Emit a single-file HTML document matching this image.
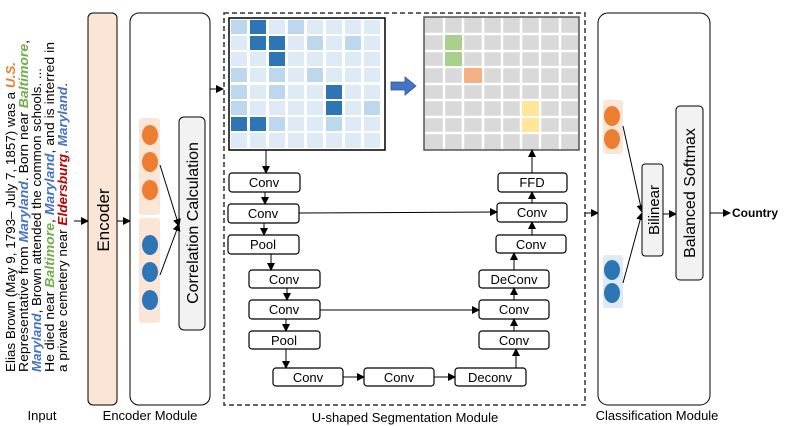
<!DOCTYPE html>
<html><head><meta charset="utf-8"><style>
html,body{margin:0;padding:0;background:#fff;}
svg{display:block;font-family:"Liberation Sans",sans-serif;}
</style></head><body>
<svg width="790" height="426" viewBox="0 0 790 426" xmlns="http://www.w3.org/2000/svg">
<defs>
<marker id="a" markerWidth="8" markerHeight="8" refX="7" refY="4" orient="auto" markerUnits="userSpaceOnUse">
<path d="M0,0 L8,4 L0,8 z" fill="#000"/></marker>
</defs>
<!-- Input text -->
<g font-size="12.5" fill="#000">
<text transform="rotate(-90)" x="-372" y="15" textLength="310" lengthAdjust="spacingAndGlyphs">Elias Brown (May 9, 1793– July 7, 1857) was a <tspan fill="#ed7d31" font-weight="bold" font-style="italic">U.S.</tspan></text>
<text transform="rotate(-90)" x="-372" y="28" textLength="332" lengthAdjust="spacingAndGlyphs">Representative from <tspan fill="#4472c4" font-weight="bold" font-style="italic">Maryland</tspan>. Born near <tspan fill="#70ad47" font-weight="bold" font-style="italic">Baltimore</tspan>,</text>
<text transform="rotate(-90)" x="-372" y="41" textLength="304" lengthAdjust="spacingAndGlyphs"><tspan fill="#4472c4" font-weight="bold" font-style="italic">Maryland</tspan>, Brown attended the common schools. ...</text>
<text transform="rotate(-90)" x="-372" y="54" textLength="330" lengthAdjust="spacingAndGlyphs">He died near <tspan fill="#70ad47" font-weight="bold" font-style="italic">Baltimore</tspan>, <tspan fill="#4472c4" font-weight="bold" font-style="italic">Maryland</tspan>, and is interred in</text>
<text transform="rotate(-90)" x="-372" y="67" textLength="289" lengthAdjust="spacingAndGlyphs">a private cemetery near <tspan fill="#c00000" font-weight="bold" font-style="italic">Eldersburg</tspan>, <tspan fill="#4472c4" font-weight="bold" font-style="italic">Maryland</tspan>.</text>
</g>
<line x1="74" y1="221" x2="88" y2="221" stroke="#000" marker-end="url(#a)"/>
<!-- Encoder -->
<rect x="88" y="13" width="29" height="392" rx="5" fill="#fbe5d6" stroke="#000"/>
<text transform="translate(109,220) rotate(-90)" text-anchor="middle" font-size="17">Encoder</text>
<line x1="117" y1="221" x2="130" y2="221" stroke="#000" marker-end="url(#a)"/>
<!-- Encoder module -->
<rect x="130" y="13" width="80" height="392" rx="9" fill="#fff" stroke="#000"/>
<rect x="139" y="118" width="21" height="97" rx="3" fill="#fbe5d6"/>
<ellipse cx="150" cy="135" rx="8" ry="10" fill="#ed7d31"/>
<ellipse cx="150" cy="162" rx="8" ry="10" fill="#ed7d31"/>
<ellipse cx="150" cy="190" rx="8" ry="10" fill="#ed7d31"/>
<rect x="139" y="218" width="21" height="105" rx="3" fill="#fbe5d6"/>
<ellipse cx="150" cy="245" rx="8" ry="10" fill="#2e75b6"/>
<ellipse cx="150" cy="272" rx="8" ry="10" fill="#2e75b6"/>
<ellipse cx="150" cy="300" rx="8" ry="10" fill="#2e75b6"/>
<rect x="179" y="117" width="26" height="213" rx="5" fill="#f2f2f2" stroke="#000"/>
<text transform="translate(198,223) rotate(-90)" text-anchor="middle" font-size="16">Correlation Calculation</text>
<line x1="160" y1="165" x2="179" y2="226" stroke="#000" marker-end="url(#a)"/>
<line x1="160" y1="275" x2="179" y2="224" stroke="#000" marker-end="url(#a)"/>
<line x1="210" y1="89" x2="223" y2="89" stroke="#000" marker-end="url(#a)"/>
<!-- dashed box -->
<rect x="224" y="13" width="361" height="392" fill="none" stroke="#333" stroke-width="1.5" stroke-dasharray="5,3"/>
<!-- heatmap 1 -->
<g id="h1"></g>
<rect x="229" y="18" width="156" height="132" fill="#fff" stroke="#000" stroke-width="1.5"/>
<g>
<script type="text/plain"></script>
</g>
<g>
<!-- rows -->
<g fill="#deebf7">
</g>
</g>
<!-- heatmap cells generated statically -->
<g stroke="none">
<!-- row0 -->
<rect x="231" y="20" width="16" height="14" fill="#bdd7ee"/><rect x="250" y="20" width="16" height="14" fill="#2e75b6"/><rect x="269" y="20" width="16" height="14" fill="#deebf7"/><rect x="288" y="20" width="16" height="14" fill="#bdd7ee"/><rect x="307" y="20" width="16" height="14" fill="#deebf7"/><rect x="326" y="20" width="16" height="14" fill="#deebf7"/><rect x="345" y="20" width="16" height="14" fill="#deebf7"/><rect x="364" y="20" width="16" height="14" fill="#deebf7"/>
<!-- row1 -->
<rect x="231" y="36" width="16" height="14" fill="#deebf7"/><rect x="250" y="36" width="16" height="14" fill="#2e75b6"/><rect x="269" y="36" width="16" height="14" fill="#2e75b6"/><rect x="288" y="36" width="16" height="14" fill="#deebf7"/><rect x="307" y="36" width="16" height="14" fill="#bdd7ee"/><rect x="326" y="36" width="16" height="14" fill="#deebf7"/><rect x="345" y="36" width="16" height="14" fill="#bdd7ee"/><rect x="364" y="36" width="16" height="14" fill="#deebf7"/>
<!-- row2 -->
<rect x="231" y="52" width="16" height="14" fill="#deebf7"/><rect x="250" y="52" width="16" height="14" fill="#deebf7"/><rect x="269" y="52" width="16" height="14" fill="#2e75b6"/><rect x="288" y="52" width="16" height="14" fill="#deebf7"/><rect x="307" y="52" width="16" height="14" fill="#deebf7"/><rect x="326" y="52" width="16" height="14" fill="#deebf7"/><rect x="345" y="52" width="16" height="14" fill="#deebf7"/><rect x="364" y="52" width="16" height="14" fill="#deebf7"/>
<!-- row3 -->
<rect x="231" y="68" width="16" height="14" fill="#bdd7ee"/><rect x="250" y="68" width="16" height="14" fill="#deebf7"/><rect x="269" y="68" width="16" height="14" fill="#bdd7ee"/><rect x="288" y="68" width="16" height="14" fill="#deebf7"/><rect x="307" y="68" width="16" height="14" fill="#bdd7ee"/><rect x="326" y="68" width="16" height="14" fill="#deebf7"/><rect x="345" y="68" width="16" height="14" fill="#deebf7"/><rect x="364" y="68" width="16" height="14" fill="#deebf7"/>
<!-- row4 -->
<rect x="231" y="85" width="16" height="14" fill="#bdd7ee"/><rect x="250" y="85" width="16" height="14" fill="#deebf7"/><rect x="269" y="85" width="16" height="14" fill="#bdd7ee"/><rect x="288" y="85" width="16" height="14" fill="#deebf7"/><rect x="307" y="85" width="16" height="14" fill="#deebf7"/><rect x="326" y="85" width="16" height="14" fill="#2e75b6"/><rect x="345" y="85" width="16" height="14" fill="#deebf7"/><rect x="364" y="85" width="16" height="14" fill="#deebf7"/>
<!-- row5 -->
<rect x="231" y="101" width="16" height="14" fill="#bdd7ee"/><rect x="250" y="101" width="16" height="14" fill="#deebf7"/><rect x="269" y="101" width="16" height="14" fill="#deebf7"/><rect x="288" y="101" width="16" height="14" fill="#deebf7"/><rect x="307" y="101" width="16" height="14" fill="#deebf7"/><rect x="326" y="101" width="16" height="14" fill="#2e75b6"/><rect x="345" y="101" width="16" height="14" fill="#deebf7"/><rect x="364" y="101" width="16" height="14" fill="#bdd7ee"/>
<!-- row6 -->
<rect x="231" y="117" width="16" height="14" fill="#2e75b6"/><rect x="250" y="117" width="16" height="14" fill="#2e75b6"/><rect x="269" y="117" width="16" height="14" fill="#bdd7ee"/><rect x="288" y="117" width="16" height="14" fill="#deebf7"/><rect x="307" y="117" width="16" height="14" fill="#deebf7"/><rect x="326" y="117" width="16" height="14" fill="#bdd7ee"/><rect x="345" y="117" width="16" height="14" fill="#deebf7"/><rect x="364" y="117" width="16" height="14" fill="#deebf7"/>
<!-- row7 -->
<rect x="231" y="133" width="16" height="15" fill="#deebf7"/><rect x="250" y="133" width="16" height="15" fill="#deebf7"/><rect x="269" y="133" width="16" height="15" fill="#deebf7"/><rect x="288" y="133" width="16" height="15" fill="#deebf7"/><rect x="307" y="133" width="16" height="15" fill="#deebf7"/><rect x="326" y="133" width="16" height="15" fill="#deebf7"/><rect x="345" y="133" width="16" height="15" fill="#deebf7"/><rect x="364" y="133" width="16" height="15" fill="#deebf7"/>
</g>
<!-- blue arrow -->
<path d="M391,82 L405,82 L405,77 L416,86 L405,95 L405,90 L391,90 z" fill="#4472c4" stroke="#2f5597" stroke-width="0.8"/>
<!-- heatmap 2 -->
<rect x="424" y="17" width="155" height="133" fill="#d9d9d9" stroke="#555" stroke-width="1.5"/>
<g stroke="#fff" stroke-width="2.5">
<line x1="444" y1="18" x2="444" y2="149"/><line x1="463" y1="18" x2="463" y2="149"/><line x1="483" y1="18" x2="483" y2="149"/><line x1="502" y1="18" x2="502" y2="149"/><line x1="521" y1="18" x2="521" y2="149"/><line x1="540" y1="18" x2="540" y2="149"/><line x1="560" y1="18" x2="560" y2="149"/>
<line x1="425" y1="34" x2="578" y2="34"/><line x1="425" y1="51" x2="578" y2="51"/><line x1="425" y1="67" x2="578" y2="67"/><line x1="425" y1="84" x2="578" y2="84"/><line x1="425" y1="100" x2="578" y2="100"/><line x1="425" y1="117" x2="578" y2="117"/><line x1="425" y1="133" x2="578" y2="133"/>
</g>
<rect x="445" y="35" width="17" height="15" fill="#a9d18e"/>
<rect x="445" y="52" width="17" height="14" fill="#a9d18e"/>
<rect x="464" y="68" width="18" height="15" fill="#f4b183"/>
<rect x="522" y="101" width="17" height="15" fill="#ffe699"/>
<rect x="522" y="118" width="17" height="14" fill="#ffe699"/>
<!-- U-net blocks -->
<g fill="#fff" stroke="#000" stroke-width="1.2">
<rect x="229" y="173" width="71" height="19" rx="3"/>
<rect x="228" y="204" width="71" height="19" rx="3"/>
<rect x="228" y="235" width="71" height="19" rx="3"/>
<rect x="249" y="270" width="71" height="18" rx="3"/>
<rect x="249" y="300" width="71" height="19" rx="3"/>
<rect x="249" y="331" width="71" height="18" rx="3"/>
<rect x="273" y="368" width="70" height="18" rx="3"/>
<rect x="364" y="368" width="70" height="18" rx="3"/>
<rect x="455" y="368" width="71" height="18" rx="3"/>
<rect x="479" y="331" width="70" height="18" rx="3"/>
<rect x="479" y="300" width="70" height="19" rx="3"/>
<rect x="479" y="270" width="70" height="18" rx="3"/>
<rect x="496" y="235" width="70" height="18" rx="3"/>
<rect x="497" y="203" width="70" height="19" rx="3"/>
<rect x="498" y="173" width="69" height="19" rx="3"/>
</g>
<g font-size="13" text-anchor="middle" fill="#000">
<text x="264" y="187">Conv</text>
<text x="263" y="218">Conv</text>
<text x="263" y="249">Pool</text>
<text x="284" y="284">Conv</text>
<text x="284" y="314">Conv</text>
<text x="284" y="345">Pool</text>
<text x="308" y="382">Conv</text>
<text x="399" y="382">Conv</text>
<text x="490" y="382">Deconv</text>
<text x="514" y="345">Conv</text>
<text x="514" y="314">Conv</text>
<text x="514" y="284">DeConv</text>
<text x="531" y="249">Conv</text>
<text x="532" y="217">Conv</text>
<text x="532" y="187">FFD</text>
</g>
<g stroke="#000" stroke-width="1" fill="none">
<line x1="266" y1="150" x2="266" y2="173" marker-end="url(#a)"/>
<line x1="265" y1="192" x2="265" y2="204" marker-end="url(#a)"/>
<line x1="264" y1="223" x2="264" y2="235" marker-end="url(#a)"/>
<line x1="271" y1="254" x2="271" y2="270" marker-end="url(#a)"/>
<line x1="287" y1="288" x2="287" y2="300" marker-end="url(#a)"/>
<line x1="286" y1="319" x2="286" y2="331" marker-end="url(#a)"/>
<line x1="286" y1="349" x2="286" y2="368" marker-end="url(#a)"/>
<line x1="343" y1="377" x2="364" y2="377" marker-end="url(#a)"/>
<line x1="434" y1="377" x2="455" y2="377" marker-end="url(#a)"/>
<line x1="516" y1="368" x2="516" y2="349" marker-end="url(#a)"/>
<line x1="514" y1="331" x2="514" y2="319" marker-end="url(#a)"/>
<line x1="514" y1="300" x2="514" y2="288" marker-end="url(#a)"/>
<line x1="514" y1="270" x2="514" y2="253" marker-end="url(#a)"/>
<line x1="532" y1="235" x2="532" y2="222" marker-end="url(#a)"/>
<line x1="532" y1="203" x2="532" y2="192" marker-end="url(#a)"/>
<line x1="532" y1="173" x2="532" y2="150" marker-end="url(#a)"/>
<line x1="299" y1="213" x2="497" y2="212" marker-end="url(#a)"/>
<line x1="320" y1="310" x2="479" y2="310" marker-end="url(#a)"/>
</g>
<line x1="585" y1="213" x2="598" y2="213" stroke="#000" marker-end="url(#a)"/>
<!-- Classification module -->
<rect x="598" y="13" width="112" height="392" rx="10" fill="#fff" stroke="#000"/>
<rect x="603" y="100" width="20" height="54" rx="3" fill="#fbe5d6"/>
<ellipse cx="612" cy="116" rx="8" ry="10" fill="#ed7d31"/>
<ellipse cx="612" cy="139" rx="8" ry="10" fill="#ed7d31"/>
<rect x="603" y="255" width="20" height="53" rx="3" fill="#deebf7"/>
<ellipse cx="612" cy="270" rx="8" ry="10" fill="#2e75b6"/>
<ellipse cx="612" cy="293" rx="8" ry="10" fill="#2e75b6"/>
<line x1="623" y1="126" x2="642" y2="212" stroke="#000" marker-end="url(#a)"/>
<line x1="623" y1="283" x2="642" y2="213" stroke="#000" marker-end="url(#a)"/>
<rect x="642" y="164" width="21" height="92" rx="3" fill="#f2f2f2" stroke="#000"/>
<text transform="translate(659,210) rotate(-90)" text-anchor="middle" font-size="15">Bilinear</text>
<line x1="663" y1="214" x2="676" y2="214" stroke="#000" marker-end="url(#a)"/>
<rect x="676" y="106" width="27" height="174" rx="4" fill="#f2f2f2" stroke="#000"/>
<text transform="translate(695,193) rotate(-90)" text-anchor="middle" font-size="16">Balanced  Softmax</text>
<line x1="710" y1="213" x2="730" y2="213" stroke="#000" marker-end="url(#a)"/>
<text x="732" y="217" font-size="12" font-weight="bold">Country</text>
<!-- labels -->
<g font-size="13" text-anchor="middle" fill="#000">
<text x="42" y="420">Input</text>
<text x="150" y="420">Encoder Module</text>
<text x="405" y="422">U-shaped  Segmentation Module</text>
<text x="657" y="420">Classification Module</text>
</g>
</svg>
</body></html>
